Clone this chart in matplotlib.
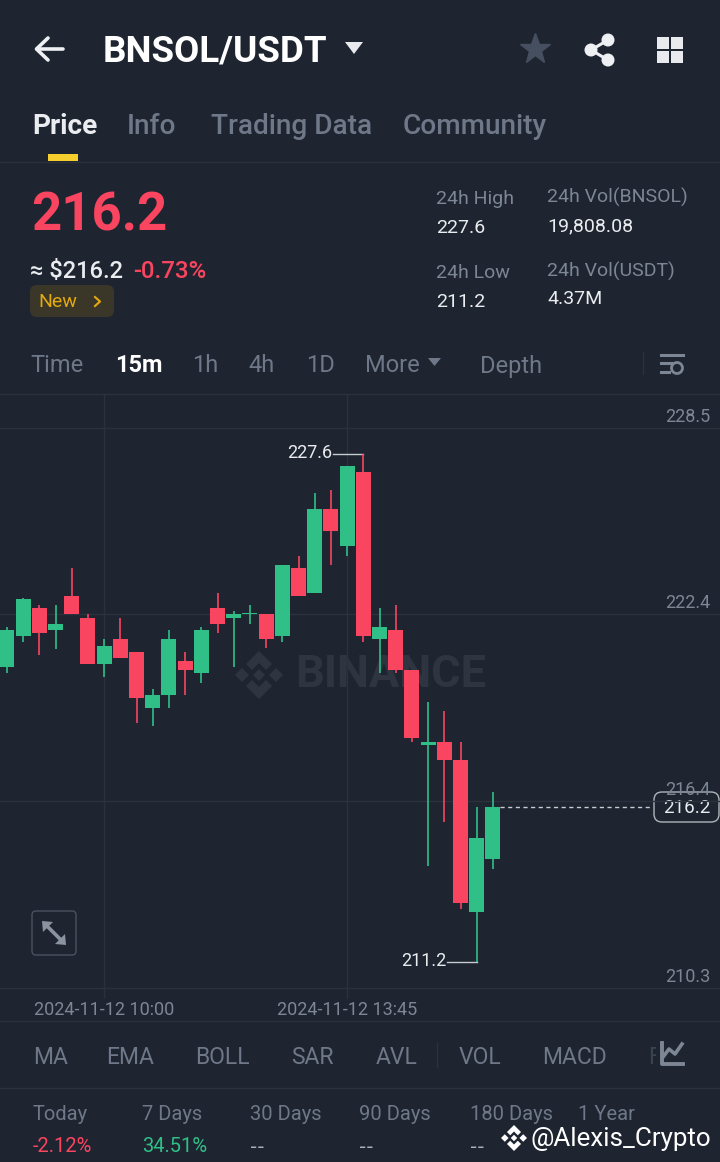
import matplotlib
matplotlib.use('Agg')
import matplotlib.pyplot as plt
from matplotlib.patches import FancyBboxPatch, Polygon, Rectangle, Circle
import numpy as np

plt.rcParams['font.family'] = ['Roboto', 'DejaVu Sans']

BG = '#1e2530'
GREEN = '#2fbf87'
RED = '#f9455f'
GRID = '#2b323e'
DIM = '#7d8694'
SOFT = '#eaecef'
WATERMARK = '#2e3541'

# ohlc, oldest first
opens = [220.73, 221.74, 222.65, 221.94, 223.04, 222.33, 220.83, 221.64, 221.22, 219.40, 219.82,
         220.93, 220.54, 222.65, 222.33, 222.44, 222.46, 221.74, 223.95, 223.14, 225.87, 224.67,
         227.07, 221.64, 221.94, 220.64, 218.21, 218.30, 217.71, 212.77, 214.49]
closes = [221.94, 222.94, 221.84, 222.13, 222.46, 220.83, 221.42, 221.03, 219.73, 219.82, 221.64,
          220.64, 221.94, 222.13, 222.46, 222.50, 221.64, 224.05, 223.04, 225.87, 225.15, 227.27,
          221.74, 222.03, 220.64, 218.42, 218.28, 217.71, 213.06, 215.17, 216.18]
highs = [222.03, 222.97, 222.75, 222.75, 223.95, 222.46, 221.64, 222.33, 221.22, 220.02, 221.94,
         221.22, 222.03, 223.14, 222.55, 222.75, 222.46, 224.05, 224.34, 226.39, 226.49, 227.27,
         227.65, 222.65, 222.75, 220.64, 219.60, 219.30, 218.30, 216.18, 216.67]
lows = [220.54, 221.55, 221.12, 221.32, 222.46, 220.83, 220.41, 221.03, 218.91, 218.82, 219.40,
        219.82, 220.21, 221.84, 220.73, 222.13, 221.35, 221.55, 223.04, 223.14, 224.05, 224.34,
        221.55, 220.54, 220.54, 218.30, 214.27, 215.70, 212.87, 211.14, 214.17]

grid_prices = [228.5, 222.44, 216.38, 210.3]
grid_labels = ['228.5', '222.4', '216.4', '210.3']
time_idx = [6, 21]
time_labels = ['2024-11-12 10:00', '2024-11-12 13:45']

tabs = ['Price', 'Info', 'Trading Data', 'Community']
tab_x = [32, 127, 211, 403]
intervals = ['Time', '15m', '1h', '4h', '1D', 'More', 'Depth']
interval_x = [30, 115, 192, 248, 306, 365, 480]
indicators = ['MA', 'EMA', 'BOLL', 'SAR', 'AVL', 'VOL', 'MACD']
indicator_x = [33, 106, 195, 291, 376, 459, 542]
periods = ['Today', '7 Days', '30 Days', '90 Days', '180 Days', '1 Year']
period_x = [33, 142, 250, 359, 470, 578]
period_vals = ['-2.12%', '34.51%', '--', '--', '--']
period_cols = [RED, GREEN, '#aab0ba', '#aab0ba', '#aab0ba']

fig = plt.figure(figsize=(7.2, 11.62), dpi=100, facecolor=BG)

# whole page in pixel coordinates for the app chrome
ui = fig.add_axes([0, 0, 1, 1])
ui.set_xlim(0, 720)
ui.set_ylim(1162, 0)
ui.axis('off')


def label(x, y, s, size, color, **kw):
    kw.setdefault('va', 'center')
    kw.setdefault('zorder', 6)
    ui.text(x, y, s, fontsize=size, color=color, **kw)


def logo(cx, cy, r, color, z):
    # the diamond mark, r is centre to tip
    u = r / 24
    pts = [[0, -24], [13, -11], [7, -5], [0, -12], [-7, -5], [-13, -11]]
    ui.add_patch(Polygon([[cx + u * a, cy + u * b] for a, b in pts], fc=color, zorder=z))
    ui.add_patch(Polygon([[cx + u * a, cy - u * b] for a, b in pts], fc=color, zorder=z))
    for dx in (-17, 0, 17):
        size = 7 if dx else 6
        ui.add_patch(Polygon([[cx + u * (dx - size), cy], [cx + u * dx, cy - u * size],
                              [cx + u * (dx + size), cy], [cx + u * dx, cy + u * size]], fc=color, zorder=z))


# header
ui.plot([37, 63], [49, 49], color='#eef0f3', lw=2.6, solid_capstyle='round')
ui.plot([48, 36.5, 48], [38, 49, 60], color='#eef0f3', lw=2.6, solid_capstyle='round', solid_joinstyle='round')
label(103, 51, 'BNSOL/USDT', 26.5, 'white', fontweight='bold')
ui.add_patch(Polygon([[345, 42], [363, 42], [354, 54]], fc='#e8eaed', joinstyle='round'))
ui.plot([535], [49], marker='*', ms=23, color='#454f60', mec='#454f60')
for cx, cy in [(608, 40), (591, 50), (608, 60)]:
    ui.add_patch(Circle((cx, cy), 6.5, fc='#eef0f3'))
ui.plot([608, 591, 608], [40, 50, 60], color='#eef0f3', lw=2.2)
for gx, gy in [(657, 37), (671, 37), (657, 51), (671, 51)]:
    ui.add_patch(Rectangle((gx, gy), 12, 12, fc='#e8eaed'))

# tabs
for s, x in zip(tabs, tab_x):
    label(x, 127, s, 20.2, SOFT if s == 'Price' else '#6f7888', fontweight='bold' if s == 'Price' else 'medium')
ui.add_patch(Rectangle((48, 154), 30, 7, fc='#f6cf2e'))
ui.plot([0, 720], [161.5, 161.5], color=GRID, lw=1)

# price block
label(31, 216, '216.2', 38, RED, fontweight='bold')
label(30, 271, '≈ $216.2', 17, SOFT, fontweight='medium')
label(133, 271, '-0.73%', 17.3, RED, fontweight='medium')
ui.add_patch(FancyBboxPatch((34, 289), 76, 24, boxstyle='round,pad=4,rounding_size=7', fc='#3a3729', ec='none'))
label(38, 302, 'New', 14, '#e3a90f')
ui.plot([95, 100, 95], [297, 301.5, 306], color='#e3a90f', lw=1.5)
label(436, 199, '24h High', 14, DIM)
label(436, 228, '227.6', 14, SOFT)
label(436, 273, '24h Low', 14, DIM)
label(436, 302, '211.2', 14, SOFT)
label(547, 197, '24h Vol(BNSOL)', 14, DIM)
label(547, 226, '19,808.08', 14, SOFT)
label(547, 271, '24h Vol(USDT)', 14, DIM)
label(547, 299, '4.37M', 14, SOFT)

# interval row
for s, x in zip(intervals, interval_x):
    label(x, 366, s, 17, 'white' if s == '15m' else '#6f7888', fontweight='bold' if s == '15m' else 'normal')
ui.add_patch(Polygon([[428, 358], [441, 358], [434.5, 366]], fc='#6f7888'))
ui.plot([643, 643], [352, 374], color=GRID, lw=1)
ui.plot([661, 683], [355, 355], color='#7d8694', lw=2.2)
ui.plot([661, 671], [363, 363], color='#7d8694', lw=2.2)
ui.plot([661, 669], [372, 372], color='#7d8694', lw=2.2)
ui.add_patch(Circle((677, 368), 5.5, fc=BG, ec='#7d8694', lw=2))
ui.plot([0, 720], [393.5, 393.5], color=GRID, lw=1)

# watermark sits behind the candles
label(295, 675, 'BINANCE', 32.5, WATERMARK, fontweight='bold', zorder=1)
logo(259, 675, 24, WATERMARK, 1)

# candles
ax = fig.add_axes([0, (1162 - 1020) / 1162, 1, (1020 - 394) / 1162], zorder=2)
ax.patch.set_alpha(0)
ax.set_xlim(-7 / 16.2, 713 / 16.2)
ax.set_ylim(228.5 - 592 * 0.0325, 228.5 + 34 * 0.0325)
ax.axis('off')

for p in grid_prices:
    ax.axhline(p, color=GRID, lw=1, zorder=1)
ax.vlines(time_idx, 209.98, ax.get_ylim()[1], color=GRID, lw=1, zorder=1)
for p, s in zip(grid_prices, grid_labels):
    ax.annotate(s, (1, p), xycoords=('axes fraction', 'data'), xytext=(-10 * 0.72, 8), textcoords='offset points',
                ha='right', va='center', fontsize=13, color=DIM, zorder=3)

idx = np.arange(len(opens))
o = np.array(opens)
c = np.array(closes)
colors = [GREEN if b >= a else RED for a, b in zip(o, c)]
ax.vlines(idx, lows, highs, colors=colors, lw=1.2, zorder=4)
ax.bar(idx, np.abs(c - o), bottom=np.minimum(o, c), width=15 / 16.2, color=colors, zorder=5)

# high/low callouts
hi = int(np.argmax(highs))
lo = int(np.argmin(lows))
ax.plot([hi - 1.9, hi], [highs[hi], highs[hi]], color='#c8ccd2', lw=1, zorder=3)
ax.text(hi - 1.95, highs[hi] + 0.03, '227.6', ha='right', va='center', fontsize=13, color=SOFT, zorder=6)
ax.plot([lo - 1.85, lo], [lows[lo], lows[lo]], color='#c8ccd2', lw=1, zorder=3)
ax.text(lo - 1.9, lows[lo] + 0.03, '211.2', ha='right', va='center', fontsize=13, color=SOFT, zorder=6)

# last price
ax.hlines(closes[-1], idx[-1] + 0.45, 39.7, color='#c8ccd2', lw=1, linestyles=(0, (3, 2.5)), zorder=3)
ui.add_patch(FancyBboxPatch((658, 796), 57, 22, boxstyle='round,pad=4,rounding_size=8', fc=BG, ec='#b0b4ba', lw=1, zorder=5))
label(687, 808, '216.2', 13.5, SOFT, ha='center')

# expand button
ui.add_patch(FancyBboxPatch((34, 913), 40, 40, boxstyle='round,pad=2,rounding_size=4', fc=BG, ec='#4a5260', lw=1, zorder=3))
ui.plot([46, 62], [925, 941], color='#8b93a0', lw=2.6, zorder=4)
ui.add_patch(Polygon([[42, 921], [53, 922], [43, 932]], fc='#8b93a0', zorder=4))
ui.add_patch(Polygon([[66, 945], [55, 944], [65, 934]], fc='#8b93a0', zorder=4))

# time labels
for i, s in zip(time_idx, time_labels):
    ax.annotate(s, (i, 0), xycoords=('data', 'axes fraction'), xytext=(0, 7.5), textcoords='offset points',
                ha='center', va='center', fontsize=13, color=DIM)

# indicator row
ui.plot([0, 720], [1020.5, 1020.5], color=GRID, lw=1)
for s, x in zip(indicators, indicator_x):
    label(x, 1057, s, 16.5, '#6f7888')
ui.plot([437, 437], [1043, 1067], color=GRID, lw=1)
label(648, 1057, 'F', 16.5, '#3a4350')
ui.add_patch(Rectangle((656, 1040), 30, 28, fc=BG, zorder=7))
ui.plot([662, 662, 683], [1043, 1064, 1064], color='#7d8694', lw=2.8, zorder=8)
ui.plot([663, 669, 675, 682], [1057, 1049, 1054, 1044], color='#7d8694', lw=2.6, zorder=8)
ui.plot([0, 720], [1087.5, 1087.5], color=GRID, lw=1)

# returns row
for s, x in zip(periods, period_x):
    label(x, 1115, s, 14.5, '#6f7888')
for s, x, col in zip(period_vals, period_x, period_cols):
    label(x, 1147, s, 14.5, col, family='DejaVu Sans' if s == '--' else None)

# repost credit
label(531, 1139, '@Alexis_Crypto', 18.7, 'white', zorder=8)
logo(514, 1138, 13, 'white', 8)

fig.savefig('out.png', dpi=100, facecolor=BG)
